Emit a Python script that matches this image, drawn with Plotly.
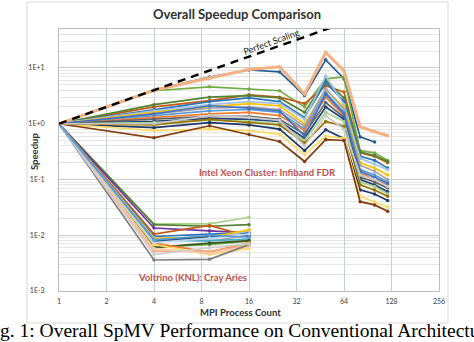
import plotly.graph_objects as go

# ---------------- data ----------------
x_intel = [1, 4, 9, 16, 25, 36, 49, 64, 81, 100, 121]
x_knl = [1, 4, 9, 16]
x_perfect = [1, 2, 4, 8, 16, 32, 64]
y_perfect = [1, 2, 4, 8, 16, 32, 64]

x_tickvals = [1, 2, 4, 8, 16, 32, 64, 128, 256]
x_ticktext = ["1", "2", "4", "8", "16", "32", "64", "128", "256"]
y_tickvals = [0.001, 0.01, 0.1, 1, 10]
y_ticktext = ["1E-3", "1E-2", "1E-1", "1E+0", "1E+1"]

intel_colors = ["#255E91", "#70AD47", "#C55A11", "#548235", "#2E75B6", "#9DC3E6",
                "#FFC000", "#A5A5A5", "#5B9BD5", "#ED7D31", "#636363", "#264478",
                "#A9D18E", "#1F3864", "#FFD966", "#843C0C", "#4472C4", "#997300",
                "#C9C9C9", "#F4B183"]
intel_values = [
    [1, 4.0, 6.9, 9.2, 8.5, 3.2, 14.0, 6.4, 0.58, 0.47, None],
    [1, 3.9, 4.6, 4.2, 3.9, 2.0, 6.4, 6.9, 0.33, 0.30, 0.22],
    [1, 2.0, 2.6, 3.3, 3.0, 2.3, 4.8, 3.7, 0.30, 0.26, 0.20],
    [1, 2.2, 3.0, 3.2, 2.9, 1.6, 6.0, 2.9, 0.31, 0.27, 0.21],
    [1, 1.8, 2.5, 2.9, 2.5, 1.3, 5.5, 2.5, 0.26, 0.22, 0.16],
    [1, 1.7, 2.2, 2.5, 2.3, 1.2, 7.2, 2.2, 0.24, 0.19, 0.15],
    [1, 1.6, 2.0, 2.3, 2.1, 1.0, 4.0, 2.0, 0.20, 0.16, 0.12],
    [1, 1.5, 1.9, 2.0, 1.8, 0.9, 4.3, 1.8, 0.18, 0.14, 0.10],
    [1, 1.4, 1.7, 1.8, 1.6, 0.8, 3.6, 1.6, 0.15, 0.12, 0.09],
    [1, 1.3, 1.5, 1.6, 1.4, 0.75, 3.0, 1.4, 0.13, 0.10, 0.08],
    [1, 1.2, 1.35, 1.35, 1.2, 0.65, 2.4, 1.3, 0.11, 0.09, 0.07],
    [1, 1.1, 1.25, 1.2, 1.1, 0.55, 2.0, 1.2, 0.10, 0.08, 0.06],
    [1, 1.05, 1.15, 1.1, 1.0, 0.5, 1.6, 1.1, 0.09, 0.075, 0.055],
    [1, 0.85, 1.05, 0.95, 0.8, 0.33, 0.78, 0.54, 0.065, 0.055, 0.042],
    [1, 0.75, 0.8, 0.75, 0.65, 0.28, 0.6, 0.55, 0.05, 0.04, 0.032],
    [1, 0.56, 0.92, 0.64, 0.48, 0.21, 0.52, 0.5, 0.04, 0.035, 0.027],
    [1, 1.5, 2.1, 1.9, 1.7, 0.6, 3.4, 1.5, 0.14, 0.11, 0.085],
    [1, 0.95, 1.2, 1.05, 0.95, 0.45, 1.1, 0.9, 0.08, 0.065, 0.05],
    [1, 1.0, 1.4, 1.3, 1.15, 0.4, 1.4, 0.8, 0.12, 0.10, 0.075],
    [1, 4.0, 6.6, 9.4, 10.5, 3.4, 19.0, 8.9, 0.88, 0.72, 0.61],
]

knl_colors = ["#A9D18E", "#548235", "#7030A0", "#C55A11", "#2E75B6", "#9DC3E6",
              "#FFC000", "#A5A5A5", "#4BACC6", "#70AD47", "#385723", "#ED7D31",
              "#FFD966", "#F4B183", "#F8CBAD", "#7F7F7F", "#D0CECE", "#1F4E79",
              "#BDD7EE", "#5B9BD5"]
knl_values = [
    [1, 0.016, 0.016, 0.021],
    [1, 0.0155, 0.0145, 0.0155],
    [1, 0.0135, 0.012, 0.011],
    [1, 0.0105, 0.015, 0.0095],
    [1, 0.0095, 0.0105, 0.011],
    [1, 0.009, 0.0085, 0.012],
    [1, 0.0088, 0.0092, 0.0125],
    [1, 0.0085, 0.0078, 0.010],
    [1, 0.008, 0.008, 0.0085],
    [1, 0.0062, 0.0068, 0.0078],
    [1, 0.006, 0.0072, 0.008],
    [1, 0.0072, 0.005, 0.0073],
    [1, 0.0068, 0.0045, 0.0058],
    [1, 0.0052, 0.0052, 0.0065],
    [1, 0.0058, 0.0047, 0.0062],
    [1, 0.0036, 0.0037, 0.0068],
    [1, 0.0045, 0.006, 0.007],
    [1, 0.0078, 0.0095, 0.0098],
    [1, 0.0074, 0.0088, 0.0105],
    [1, 0.0082, 0.010, 0.0092],
]

# ---------------- figure ----------------
fig = go.Figure()

for vals, col in zip(knl_values, knl_colors):
    fig.add_trace(go.Scatter(x=x_knl, y=vals, mode="lines+markers",
                             line=dict(color=col, width=1.7),
                             marker=dict(size=3.5, color=col),
                             showlegend=False, hoverinfo="skip"))

for vals, col in zip(intel_values, intel_colors):
    w = 3.0 if col == "#F4B183" else 1.7
    fig.add_trace(go.Scatter(x=x_intel, y=vals, mode="lines+markers",
                             line=dict(color=col, width=w),
                             marker=dict(size=3.5, color=col),
                             connectgaps=False,
                             showlegend=False, hoverinfo="skip"))

fig.add_trace(go.Scatter(x=x_perfect, y=y_perfect, mode="lines",
                         line=dict(color="black", width=2.4, dash="8px,6px"),
                         showlegend=False, hoverinfo="skip"))

minor_y = [m * 10 ** e for e in range(-3, 2) for m in range(2, 10)]

fig.update_xaxes(type="log", range=[0, 2.40824],
                 tickvals=x_tickvals, ticktext=x_ticktext,
                 showgrid=True, gridcolor="#C8CED6", gridwidth=1,
                 showline=True, linecolor="#BFBFBF", mirror=True,
                 ticks="", ticklabelstandoff=4,
                 tickfont=dict(family="Lato", size=7, color="#404040"),
                 zeroline=False)
fig.update_yaxes(type="log", range=[-3, 1.699],
                 tickvals=y_tickvals, ticktext=y_ticktext,
                 showgrid=True, gridcolor="#CFCFCF", gridwidth=1,
                 minor=dict(tickvals=minor_y, showgrid=True, gridcolor="#E6E6E6", gridwidth=1, ticks=""),
                 showline=True, linecolor="#BFBFBF", mirror=True,
                 ticks="", ticklabelstandoff=12,
                 tickfont=dict(family="Lato", size=7, color="#404040"),
                 zeroline=False)

fig.update_layout(
    width=474, height=342,
    margin=dict(l=59, r=35, t=29, b=51),
    paper_bgcolor="white", plot_bgcolor="white",
    showlegend=False,
    shapes=[dict(type="rect", xref="paper", yref="paper",
                 x0=-32 / 380, x1=(448 - 59) / 380,
                 y0=(291 - 323) / 262, y1=(291 - 2) / 262,
                 line=dict(color="#D9D9D9", width=1), fillcolor="rgba(0,0,0,0)",
                 layer="below")],
    annotations=[
        dict(text="Overall Speedup Comparison", xref="paper", yref="paper",
             x=(237 - 59) / 380, y=(291 - 14) / 262, showarrow=False,
             font=dict(family="Lato", size=13, color="#303030", weight="bold"),
             xanchor="center", yanchor="middle"),
        dict(text="Speedup", xref="paper", yref="paper",
             x=(34 - 59) / 380, y=(291 - 152) / 262, showarrow=False, textangle=-90,
             font=dict(family="Lato", size=9.5, color="#303030", weight="bold"),
             xanchor="center", yanchor="middle"),
        dict(text="MPI Process Count", xref="paper", yref="paper",
             x=(240 - 59) / 380, y=(291 - 312) / 262, showarrow=False,
             font=dict(family="Lato", size=9.5, color="#303030", weight="bold"),
             xanchor="center", yanchor="middle"),
        dict(text="Intel Xeon Cluster: Infiband FDR", xref="paper", yref="paper",
             x=(267 - 59) / 380, y=(291 - 172) / 262, showarrow=False,
             font=dict(family="Lato", size=9.5, color="#C0504D", weight="bold"),
             xanchor="center", yanchor="middle"),
        dict(text="Voltrino (KNL): Cray Aries", xref="paper", yref="paper",
             x=(192 - 59) / 380, y=(291 - 277) / 262, showarrow=False,
             font=dict(family="Lato", size=9.5, color="#C0504D", weight="bold"),
             xanchor="center", yanchor="middle"),
        dict(text="Perfect Scaling", x=1.349, y=1.349, xref="x", yref="y",
             showarrow=False, textangle=-20, yshift=7,
             font=dict(family="Lato", size=9, color="#202020"),
             xanchor="center", yanchor="middle"),
        dict(text="g. 1: Overall SpMV Performance on Conventional Architectu",
             xref="paper", yref="paper",
             x=(-2 - 59) / 380, y=(291 - 330) / 262, showarrow=False,
             font=dict(family="Liberation Serif", size=19.5, color="black"),
             xanchor="left", yanchor="middle"),
    ],
)

fig.write_html("out.html")
